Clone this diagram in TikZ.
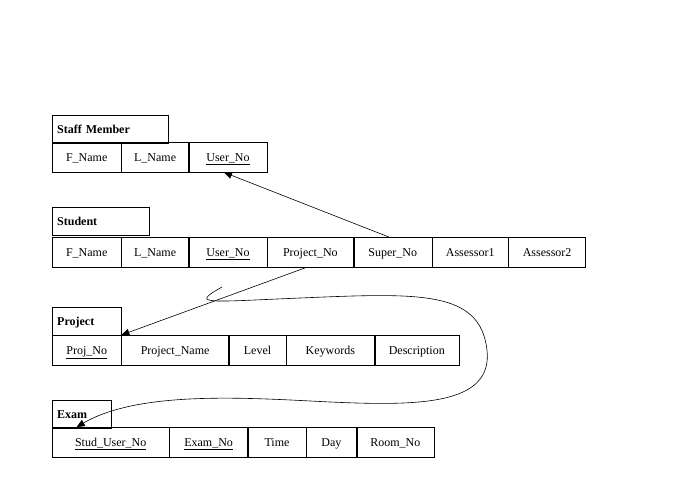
\documentclass[tikz,border=0pt]{standalone}
\usepackage{fontspec}
\setmainfont{Liberation Serif}
\usetikzlibrary{arrows.meta, positioning}
\tikzstyle{cell} = [rectangle, draw, anchor=north west, minimum height=30pt, inner sep=0pt, text depth=0pt, font=\fontsize{12}{14}\selectfont]
\tikzstyle{title} = [cell, minimum height=28pt, text width=#1, align=left, font=\fontsize{12}{14}\selectfont\bfseries]
\tikzstyle{arrow} = [->, >={Triangle[length=8pt,width=7pt]}, line width=0.6pt]

\begin{document}
\begin{tikzpicture}[x=1pt, y=-1pt]
    \useasboundingbox (0,0) rectangle (700,478);

    % Staff Member
    \node[title=106pt, minimum width=116pt, inner xsep=5pt] (staff) at (52,115) {Staff Member};
    \node[cell, minimum width=69pt] (smF) at (52,142) {F\_Name};
    \node[cell, minimum width=67pt, right=0pt of smF.north east, anchor=north west] (smL) {L\_Name};
    \node[cell, minimum width=78pt, right=0pt of smL.north east, anchor=north west] (smU) {\underline{User\_No}};

    % Student
    \node[title=87pt, minimum width=97pt, inner xsep=5pt] (student) at (52,207) {Student};
    \node[cell, minimum width=69pt] (stF) at (52,237) {F\_Name};
    \node[cell, minimum width=67pt, right=0pt of stF.north east, anchor=north west] (stL) {L\_Name};
    \node[cell, minimum width=78pt, right=0pt of stL.north east, anchor=north west] (stU) {\underline{User\_No}};
    \node[cell, minimum width=86pt, right=0pt of stU.north east, anchor=north west] (stP) {Project\_No};
    \node[cell, minimum width=78pt, right=0pt of stP.north east, anchor=north west] (stS) {Super\_No};
    \node[cell, minimum width=76pt, right=0pt of stS.north east, anchor=north west] (stA) {Assessor1};
    \node[cell, minimum width=77pt, right=0pt of stA.north east, anchor=north west] (stB) {Assessor2};

    % Project
    \node[title=59pt, minimum width=69pt, inner xsep=5pt] (project) at (52,307) {Project};
    \node[cell, minimum width=69pt] (prN) at (52,335) {\underline{Proj\_No}};
    \node[cell, minimum width=107pt, right=0pt of prN.north east, anchor=north west] (prM) {Project\_Name};
    \node[cell, minimum width=57pt, right=0pt of prM.north east, anchor=north west] (prL) {Level};
    \node[cell, minimum width=88pt, right=0pt of prL.north east, anchor=north west] (prK) {Keywords};
    \node[cell, minimum width=84pt, right=0pt of prK.north east, anchor=north west] (prD) {Description};

    % Exam
    \node[title=49pt, minimum width=59pt, inner xsep=5pt] (exam) at (52,400) {Exam};
    \node[cell, minimum width=117pt] (exU) at (52,427) {\underline{Stud\_User\_No}};
    \node[cell, minimum width=78pt, right=0pt of exU.north east, anchor=north west] (exN) {\underline{Exam\_No}};
    \node[cell, minimum width=58pt, right=0pt of exN.north east, anchor=north west] (exT) {Time};
    \node[cell, minimum width=50pt, right=0pt of exT.north east, anchor=north west] (exD) {Day};
    \node[cell, minimum width=77pt, right=0pt of exD.north east, anchor=north west] (exR) {Room\_No};

    % Foreign keys
    \coordinate (curveStart) at (222,287);
    \draw[arrow] ([xshift=-4pt]stS.north) -- ([xshift=-4pt]smU.south);
    \draw[arrow] ([xshift=-4pt]stP.south) -- (prN.north east);
    \draw[arrow] (curveStart) .. controls (190,305) and (205,302) .. (300,298)
        .. controls (420,293) and (480,290) .. (487,350)
        .. controls (493,405) and (420,406) .. (330,402)
        .. controls (250,398) and (140,390) .. ([xshift=-34pt]exU.north);
\end{tikzpicture}
\end{document}
